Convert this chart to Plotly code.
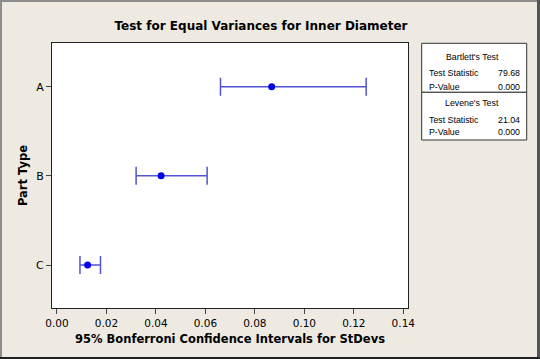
import plotly.graph_objects as go

categories = ["A", "B", "C"]
cat_pos = [3, 2, 1]
stdev = [0.0868, 0.0421, 0.0124]
lower = [0.0661, 0.0320, 0.0093]
upper = [0.1250, 0.0607, 0.0176]
x_ticks = [0.00, 0.02, 0.04, 0.06, 0.08, 0.10, 0.12, 0.14]

bartlett_stat = "79.68"
bartlett_p = "0.000"
levene_stat = "21.04"
levene_p = "0.000"

font_fam = "DejaVu Sans, Verdana, sans-serif"
box_font = "Liberation Sans, Arial, sans-serif"

W, H = 540, 359
ML, MR, MT, MB = 52, 132, 43, 51
PW, PH = W - ML - MR, H - MT - MB


def fx(px):
    return (px - ML) / PW


def fy(py):
    return (H - MB - py) / PH


fig = go.Figure()
fig.add_trace(go.Scatter(
    x=stdev, y=cat_pos, mode="markers",
    marker=dict(color="#0000EE", size=7),
    error_x=dict(type="data", symmetric=False,
                 array=[u - s for u, s in zip(upper, stdev)],
                 arrayminus=[s - l for s, l in zip(stdev, lower)],
                 color="#5252D4", thickness=1.5, width=9),
    showlegend=False,
))

fig.update_layout(
    width=W, height=H,
    paper_bgcolor="#EEEAE2", plot_bgcolor="white",
    margin=dict(l=ML, r=MR, t=MT, b=MB),
    title=dict(text="<b>Test for Equal Variances for Inner Diameter</b>",
               x=fx(261), xanchor="center", xref="paper",
               y=1 - 25.5 / H, yanchor="middle",
               font=dict(family=font_fam, size=12, color="black")),
    font=dict(family=font_fam, color="black"),
)
fig.update_xaxes(range=[-0.002, 0.1419], tickvals=x_ticks, tickformat=".2f",
                 ticks="outside", ticklen=5, tickcolor="#444",
                 showline=True, linecolor="#222", linewidth=1, mirror=True,
                 showgrid=False, zeroline=False,
                 tickfont=dict(size=10.5),
                 title=dict(text="<b>95% Bonferroni Confidence Intervals for StDevs</b>",
                            font=dict(size=11.5), standoff=7))
fig.update_yaxes(range=[0.518, 3.49], tickvals=cat_pos, ticktext=categories,
                 ticks="outside", ticklen=5, tickcolor="#444",
                 showline=True, linecolor="#222", linewidth=1, mirror=True,
                 showgrid=False, zeroline=False,
                 tickfont=dict(size=11),
                 title=dict(text="<b>Part Type</b>", font=dict(size=11.5), standoff=6))

shapes = [
    dict(type="rect", xref="paper", yref="paper",
         x0=fx(421.7), x1=fx(526.7), y0=fy(92.3), y1=fy(43.3),
         line=dict(color="#333", width=1), fillcolor="white"),
    dict(type="rect", xref="paper", yref="paper",
         x0=fx(421.7), x1=fx(526.7), y0=fy(140), y1=fy(92.3),
         line=dict(color="#333", width=1), fillcolor="white"),
    # outer figure frame
    dict(type="line", xref="paper", yref="paper", x0=fx(0), x1=fx(W), y0=fy(1), y1=fy(1),
         line=dict(color="#8C8C8C", width=2)),
    dict(type="line", xref="paper", yref="paper", x0=fx(1), x1=fx(1), y0=fy(0), y1=fy(H),
         line=dict(color="#8C8C8C", width=2)),
    dict(type="line", xref="paper", yref="paper", x0=fx(W - 1.5), x1=fx(W - 1.5), y0=fy(0), y1=fy(H),
         line=dict(color="#555", width=3)),
    dict(type="line", xref="paper", yref="paper", x0=fx(0), x1=fx(W), y0=fy(H - 1), y1=fy(H - 1),
         line=dict(color="#222", width=2)),
]
fig.update_layout(shapes=shapes)


def ann(x, y, text, anchor):
    fig.add_annotation(xref="paper", yref="paper", x=fx(x), y=fy(y),
                       text=text, showarrow=False, xanchor=anchor, yanchor="middle",
                       font=dict(family=box_font, size=8.8, color="black"))


ann(472, 57.3, "Bartlett's Test", "center")
ann(427, 73.3, "Test Statistic", "left")
ann(522, 73.3, bartlett_stat, "right")
ann(427, 86.7, "P-Value", "left")
ann(522, 86.7, bartlett_p, "right")
ann(472, 102.7, "Levene's Test", "center")
ann(427, 120, "Test Statistic", "left")
ann(522, 120, levene_stat, "right")
ann(427, 131.7, "P-Value", "left")
ann(522, 131.7, levene_p, "right")

fig.write_html("out.html", config={"displayModeBar": False},
               post_script="document.body.style.margin='0px';")
